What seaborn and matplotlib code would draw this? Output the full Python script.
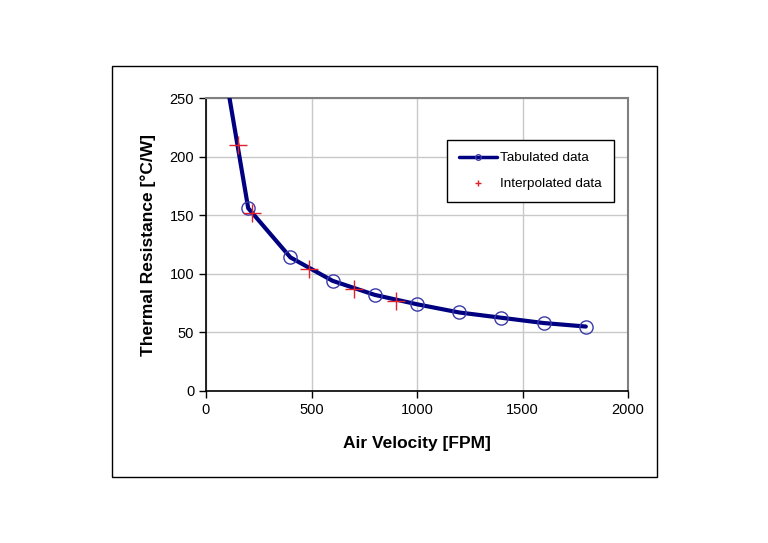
import numpy as np
import pandas as pd
import seaborn as sns
import matplotlib
matplotlib.use('Agg')
from matplotlib import pyplot as plt
from matplotlib.lines import Line2D
from matplotlib.patches import Rectangle


# tabulated heat sink data (air velocity in FPM, resistance in C/W)
tab_velocity = [100, 200, 400, 600, 800, 1000, 1200, 1400, 1600, 1800]
tab_resistance = [262, 156, 114, 94, 82, 74, 67, 62.5, 58, 55]

# interpolated points
interp_velocity = [150, 220, 490, 700, 900]
interp_resistance = [210, 152, 104, 87, 77]

x_ticks = [0, 500, 1000, 1500, 2000]
y_ticks = [0, 50, 100, 150, 200, 250]

LINE_COLOR = '#000080'
CIRCLE_COLOR = '#3b3baa'
PLUS_COLOR = '#e0202a'


def plot():
    sns.set_theme(style='white')
    plt.rcParams['font.family'] = ['Liberation Sans', 'DejaVu Sans']
    plt.rcParams['text.color'] = 'black'
    plt.rcParams['axes.labelcolor'] = 'black'

    fig = plt.figure(figsize=(7.68, 5.43), dpi=100)
    fig.patches.append(Rectangle((112 / 768, 66 / 543), 545 / 768, 411 / 543,
                                 transform=fig.transFigure, fill=False,
                                 edgecolor='black', linewidth=1.0))
    ax = fig.add_axes([206 / 768, 152 / 543, 422 / 768, 293 / 543])

    tab = pd.DataFrame({'v': tab_velocity, 'r': tab_resistance})
    interp = pd.DataFrame({'v': interp_velocity, 'r': interp_resistance})

    sns.lineplot(data=tab, x='v', y='r', ax=ax, color=LINE_COLOR, linewidth=3,
                 marker='o', markersize=9.5, markerfacecolor='none',
                 markeredgecolor=CIRCLE_COLOR, markeredgewidth=1.0,
                 zorder=3)
    ax.plot(interp['v'], interp['r'], linestyle='none', marker='+',
            markersize=13, markeredgewidth=1.0, color=PLUS_COLOR, zorder=4)

    ax.set_xlim(0, 2000)
    ax.set_ylim(0, 250)
    ax.set_xticks(x_ticks)
    ax.set_yticks(y_ticks)
    ax.grid(True, color='#c8c8c8', linewidth=1)
    ax.tick_params(axis='both', direction='out', length=5, width=1,
                   labelsize=10.5, colors='black', bottom=True, left=True)
    for side in ['left', 'bottom']:
        ax.spines[side].set_color('black')
        ax.spines[side].set_linewidth(1.2)
    for side in ['top', 'right']:
        ax.spines[side].set_color('#808080')
        ax.spines[side].set_linewidth(1.5)

    ax.set_xlabel('Air Velocity [FPM]', fontsize=12.5, fontweight='bold',
                  labelpad=14)
    ax.set_ylabel('Thermal Resistance [°C/W]', fontsize=12.5,
                  fontweight='bold', labelpad=10)

    handles = [
        Line2D([], [], color=LINE_COLOR, linewidth=2.5, marker='o',
               markersize=4, markerfacecolor='none',
               markeredgecolor=CIRCLE_COLOR, markeredgewidth=1.0),
        Line2D([], [], linestyle='none', marker='+', markersize=5,
               markeredgewidth=1.0, color=PLUS_COLOR),
    ]
    leg = ax.legend(handles, ['Tabulated data', 'Interpolated data'],
                    loc='upper left', bbox_to_anchor=(0.571, 0.857),
                    borderaxespad=0, fontsize=9.7, frameon=True,
                    fancybox=False, edgecolor='black', framealpha=1,
                    borderpad=0.9, labelspacing=1.0, handlelength=2.8,
                    handletextpad=0.25)
    leg.get_frame().set_linewidth(1.0)

    fig.savefig('out.png', dpi=100)


if __name__ == '__main__':
    plot()
